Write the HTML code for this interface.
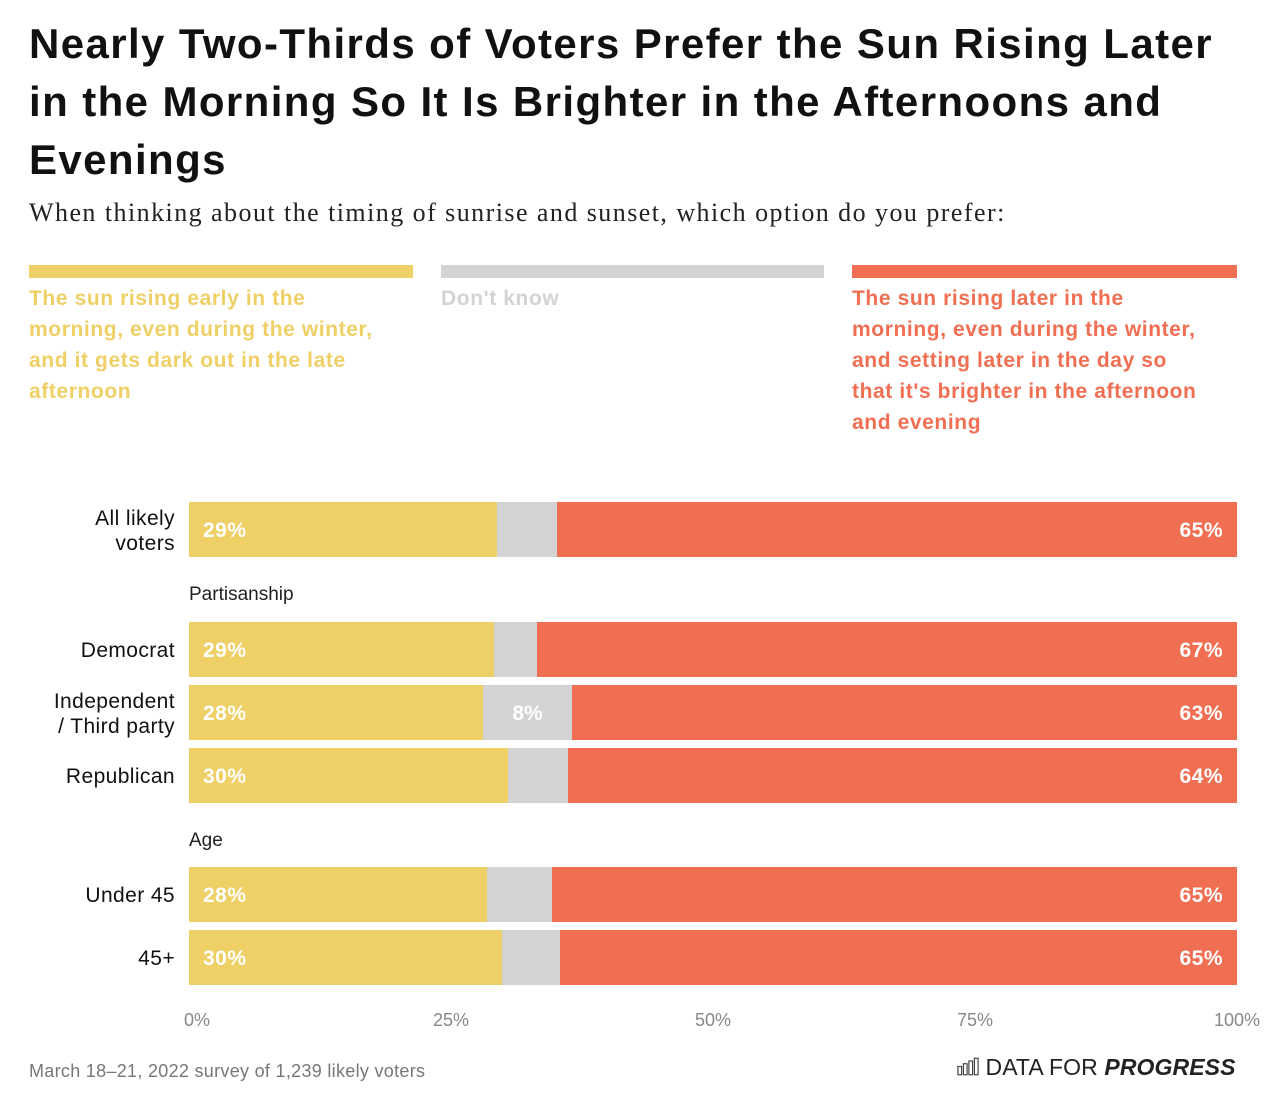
<!DOCTYPE html>
<html><head><meta charset="utf-8">
<style>
body{margin:0;width:1278px;height:1103px;background:#fff;position:relative;overflow:hidden;font-family:"Liberation Sans",sans-serif;}
.abs{position:absolute;}
#title{left:29px;top:15px;width:1240px;font-size:42px;font-weight:bold;line-height:58px;color:#111;letter-spacing:1.4px;white-space:nowrap;}
#sub{left:29px;top:198px;font-family:"Liberation Serif",serif;font-size:26px;letter-spacing:1.45px;color:#222;white-space:nowrap;}
.leg-bar{height:13px;top:265px;}
.leg-txt{top:283px;font-size:21px;font-weight:bold;line-height:31px;width:400px;white-space:nowrap;letter-spacing:0.6px;}
.grp{font-size:19px;color:#222;left:189px;}
</style></head><body>
<div id="title" class="abs">Nearly Two-Thirds of Voters Prefer the Sun Rising Later<br>in the Morning So It Is Brighter in the Afternoons and<br>Evenings</div>
<div id="sub" class="abs">When thinking about the timing of sunrise and sunset, which option do you prefer:</div>

<div class="abs leg-bar" style="left:29px;width:384px;background:#efd066"></div>
<div class="abs leg-bar" style="left:441px;width:383px;background:#d3d3d3"></div>
<div class="abs leg-bar" style="left:852px;width:385px;background:#f06f52"></div>
<div class="abs leg-txt" style="left:29px;color:#efd066">The sun rising early in the<br>morning, even during the winter,<br>and it gets dark out in the late<br>afternoon</div>
<div class="abs leg-txt" style="left:441px;color:#d3d3d3">Don't know</div>
<div class="abs leg-txt" style="left:852px;color:#f06f52">The sun rising later in the<br>morning, even during the winter,<br>and setting later in the day so<br>that it's brighter in the afternoon<br>and evening</div>

<div class="abs grp" style="top:584px">Partisanship</div>
<div class="abs grp" style="top:830px">Age</div>

<div id="chart" class="abs" style="left:0;top:0;width:1278px;height:1103px"></div>

<div class="abs" style="left:29px;top:1061px;font-size:18px;letter-spacing:0.3px;color:#777">March 18–21, 2022 survey of 1,239 likely voters</div>
<div class="abs" style="left:957px;top:1054px;font-size:23px;color:#222;white-space:nowrap;letter-spacing:0.1px"><svg width="22" height="19" style="vertical-align:-1px" viewBox="0 0 24 20"><g fill="none" stroke="#444" stroke-width="1.3"><rect x="1" y="10" width="4" height="9"/><rect x="7" y="7" width="4" height="12"/><rect x="13" y="4" width="4" height="15"/><rect x="19" y="1" width="4" height="18"/></g></svg> DATA FOR <b><i>PROGRESS</i></b></div>

<script>
const categories=["All likely voters","Democrat","Independent / Third party","Republican","Under 45","45+"];
const catLines=[["All likely","voters"],["Democrat"],["Independent","/ Third party"],["Republican"],["Under 45"],["45+"]];
const earlyVals=[29.4,29.1,28.1,30.4,28.4,29.9];
const dkVals=[5.7,4.1,8.4,5.8,6.2,5.5];
const laterVals=[64.9,66.8,63.5,63.8,65.4,64.6];
const earlyLabels=["29%","29%","28%","30%","28%","30%"];
const dkLabels=["","","8%","","",""];
const laterLabels=["65%","67%","63%","64%","65%","65%"];
const rowTops=[502,622,685,748,867,930];
const ticks=[0,25,50,75,100];
const tickLabels=["0%","25%","50%","75%","100%"];
const X0=189,X1=1237,BH=55;
function xs(v){return X0+(X1-X0)*v/100;}
const chart=document.getElementById('chart');
function mk(css,txt){const d=document.createElement('div');d.className='abs';d.style.cssText=css;if(txt!==undefined)d.textContent=txt;chart.appendChild(d);return d;}
categories.forEach((c,i)=>{
  const y=rowTops[i];
  const a=xs(0),b=xs(earlyVals[i]),cc=xs(earlyVals[i]+dkVals[i]),d=xs(earlyVals[i]+dkVals[i]+laterVals[i]);
  const e=mk(`left:${a}px;top:${y}px;width:${b-a}px;height:${BH}px;background:#efd066`);
  
  
  const g=mk(`left:${b}px;top:${y}px;width:${cc-b}px;height:${BH}px;background:#d3d3d3`);
  
  
  const r=mk(`left:${cc}px;top:${y}px;width:${d-cc}px;height:${BH}px;background:#f06f52`);
  
  
  const l1=mk(`left:${a+14}px;top:${y+17}px;font-size:21px;font-weight:bold;color:#fff;letter-spacing:0.5px`,earlyLabels[i]);
  
  
  if(dkLabels[i]){const l2=mk(`left:${(b+cc)/2}px;top:${y+17}px;font-size:21px;font-weight:bold;color:#fff;transform:translateX(-50%)`,dkLabels[i]);
  
  }
  const l3=mk(`left:${d-14}px;top:${y+17}px;font-size:21px;font-weight:bold;color:#fff;letter-spacing:0.5px;transform:translateX(-100%)`,laterLabels[i]);
  
  
  const lines=catLines[i];
  const cl=mk(`right:${1278-175}px;top:${y+BH/2-lines.length*25/2+1}px;font-size:21px;color:#111;text-align:right;line-height:25px;white-space:nowrap;letter-spacing:0.4px`);
  cl.innerHTML=lines.join('<br>');
  
  
});
ticks.forEach((t,i)=>{
  const k=mk(`left:${xs(t)+(i==0?8:0)}px;top:1010px;font-size:18px;color:#888;transform:translateX(-50%)`,tickLabels[i]);
  
  
});
</script>
</body></html>
